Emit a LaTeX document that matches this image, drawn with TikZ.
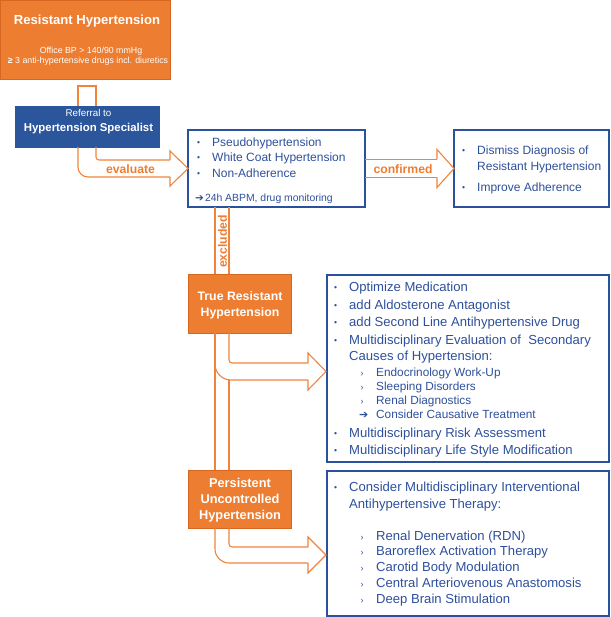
\documentclass[tikz,border=0pt]{standalone}
\usepackage{fontspec}
\setmainfont{Liberation Sans}
\newfontfamily\dejavu{DejaVu Sans}
\usetikzlibrary{calc}
\definecolor{orF}{RGB}{237,125,49}
\definecolor{orD}{RGB}{214,102,32}
\definecolor{orL}{RGB}{240,132,58}
\definecolor{blF}{RGB}{44,86,156}
\definecolor{blB}{RGB}{42,80,158}
\definecolor{blT}{RGB}{46,80,156}
\newcommand\bul{\llap{\makebox[15pt][l]{\fontsize{8.5}{8.5}\selectfont\raisebox{1pt}{•}}}}
\newcommand\subb{\llap{\makebox[15.5pt][l]{\fontsize{9}{9}\selectfont ›}}}
\newcommand\suba{\llap{\makebox[17pt][l]{\dejavu\fontsize{11}{11}\selectfont ➔}}}
\tikzset{
  obox/.style={draw=orD, fill=orF, line width=0.8pt, outer sep=0pt, inner sep=0pt, anchor=north west},
  rbox/.style={draw=blF, fill=blF, line width=0.6pt, outer sep=0pt, inner sep=0pt, anchor=north west},
  bbox/.style={draw=blB, fill=white, line width=1.6pt, outer sep=0pt, inner sep=0pt, anchor=north west},
  chan/.style={draw=orL, line width=1.1pt, line join=miter},
  wtxt/.style={anchor=base, inner sep=0pt, text=white},
  btxt/.style={anchor=base west, inner sep=0pt, text=blT, font=\fontsize{12}{14}\selectfont},
  mtxt/.style={anchor=base west, inner sep=0pt, text=blT, font=\fontsize{13.1}{15}\selectfont},
  stxt/.style={anchor=base west, inner sep=0pt, text=blT, font=\fontsize{11.8}{14}\selectfont},
  olbl/.style={inner sep=0pt, text=orF, font=\bfseries\fontsize{12.2}{14}\selectfont},
}
\begin{document}
\begin{tikzpicture}[x=1pt,y=-1pt]
\useasboundingbox (0,0) rectangle (610,617);

% ---- boxes
\node[obox, minimum width=170pt, minimum height=79pt] (top) at (0,0) {};
\node[rbox, minimum width=144pt, minimum height=41pt] (ref) at (15,106) {};
\node[bbox, minimum width=177pt, minimum height=77pt] (b2) at (188,130) {};
\node[bbox, minimum width=155pt, minimum height=77pt] (b3) at (454,130) {};
\node[obox, minimum width=103pt, minimum height=59pt] (tr) at (188,274) {};
\node[bbox, minimum width=282pt, minimum height=187pt] (b4) at (327,275) {};
\node[obox, minimum width=103pt, minimum height=58pt] (pu) at (188,470) {};
\node[bbox, minimum width=282pt, minimum height=145pt] (b5) at (327,471) {};

% ---- top box text
\node[wtxt, font=\bfseries\fontsize{13.1}{15}\selectfont] (t1) at (87,25) {Resistant Hypertension};
\node[wtxt, font=\fontsize{8.8}{10}\selectfont] (t2) at (91,54) {Office BP > 140/90 mmHg};
\node[wtxt, font=\fontsize{8.8}{10}\selectfont] (t3) at (88,63.5) {\textbf{≥} 3 anti-hypertensive drugs incl. diuretics};

% ---- referral text
\node[wtxt, font=\fontsize{9.8}{11}\selectfont] (r1) at (88.5,117) {Referral to};
\node[wtxt, font=\bfseries\fontsize{11.4}{13}\selectfont] (r2) at (88.5,132) {Hypertension Specialist};

% ---- box 2
\node[btxt] (p1) at (212,146.7) {\bul Pseudohypertension};
\node[btxt] (p2) at (212,162) {\bul White Coat Hypertension};
\node[btxt] (p3) at (212,178) {\bul Non-Adherence};
\node[btxt, font=\fontsize{10.4}{12}\selectfont] (p4) at (195,201.5) {{\dejavu\fontsize{10.5}{10.5}\selectfont ➔}\hspace{1pt}24h ABPM, drug monitoring};

% ---- box 3
\node[btxt] (d1) at (477,155) {\bul Dismiss Diagnosis of};
\node[btxt] (d2) at (477,170.7) {Resistant Hypertension};
\node[btxt] (d3) at (477,191.7) {\bul Improve Adherence};

% ---- true resistant text
\node[wtxt, font=\bfseries\fontsize{12.3}{14}\selectfont] (tr1) at (240,300) {True Resistant};
\node[wtxt, font=\bfseries\fontsize{12.3}{14}\selectfont] (tr2) at (240,316) {Hypertension};

% ---- box 4
\node[mtxt] (o1) at (349,291.7) {\bul Optimize Medication};
\node[mtxt] (o2) at (349,309) {\bul add Aldosterone Antagonist};
\node[mtxt] (o3) at (349,326.5) {\bul add Second Line Antihypertensive Drug};
\node[mtxt] (o4) at (349,344) {\bul Multidisciplinary Evaluation of\ \ Secondary};
\node[mtxt] (o5) at (349,360) {Causes of Hypertension:};
\node[stxt] (o6) at (376,376) {\subb Endocrinology Work-Up};
\node[stxt] (o7) at (376,390.5) {\subb Sleeping Disorders};
\node[stxt] (o8) at (376,404.3) {\subb Renal Diagnostics};
\node[stxt] (o9) at (376,418.7) {\suba Consider Causative Treatment};
\node[mtxt] (o10) at (349,437.3) {\bul Multidisciplinary Risk Assessment};
\node[mtxt] (o11) at (349,454.3) {\bul Multidisciplinary Life Style Modification};

% ---- persistent text
\node[wtxt, font=\bfseries\fontsize{12.8}{14}\selectfont] (pu1) at (240,487.3) {Persistent};
\node[wtxt, font=\bfseries\fontsize{12.8}{14}\selectfont] (pu2) at (240,503.3) {Uncontrolled};
\node[wtxt, font=\bfseries\fontsize{12.8}{14}\selectfont] (pu3) at (240,519.3) {Hypertension};

% ---- box 5
\node[mtxt] (c1) at (349,491.7) {\bul Consider Multidisciplinary Interventional};
\node[mtxt] (c2) at (349,508.3) {Antihypertensive Therapy:};
\node[mtxt] (c3) at (376,540) {\subb Renal Denervation (RDN)};
\node[mtxt] (c4) at (376,555.3) {\subb Baroreflex Activation Therapy};
\node[mtxt] (c5) at (376,571.3) {\subb Carotid Body Modulation};
\node[mtxt] (c6) at (376,587.3) {\subb Central Arteriovenous Anastomosis};
\node[mtxt] (c7) at (376,603.3) {\subb Deep Brain Stimulation};

% ---- connector: top -> referral
\draw[chan] ($(ref.north west)+(63,0)$) -- ++(0,-20) -- ++(18,0) -- ++(0,20);

% ---- connector: referral -> box 2 (evaluate)
\coordinate (e1) at ($(b2.west)+(-18,0)$);
\draw[chan, rounded corners=3] ($(ref.south west)+(81,0)$) |- ($(e1)+(0,-8.5)$);
\draw[chan, rounded corners=10] ($(ref.south west)+(63,0)$) |- ($(e1)+(0,8.5)$);
\draw[chan] ($(e1)+(0,-8.5)$) -- ++(0,-9) -- (b2.west) -- ($(e1)+(0,17.5)$) -- ++(0,-9);
\node[olbl, anchor=base] (lev) at (130.5,173.5) {evaluate};

% ---- connector: box 2 -> box 3 (confirmed)
\coordinate (e2) at ($(b3.west)+(-17,0)$);
\draw[chan] ($(b2.east)+(0,-9)$) -- ($(e2)+(0,-9)$);
\draw[chan] ($(b2.east)+(0,9)$) -- ($(e2)+(0,9)$);
\draw[chan] ($(e2)+(0,-9)$) -- ++(0,-10) -- (b3.west) -- ($(e2)+(0,19)$) -- ++(0,-10);
\node[olbl, anchor=base] (lco) at (403,173.5) {confirmed};

% ---- connector: box 2 -> true resistant (excluded)
\draw[chan] ($(b2.south west)+(27,0)$) -- ($(tr.north west)+(27,0)$);
\draw[chan] ($(b2.south west)+(41,0)$) -- ($(tr.north west)+(41,0)$);
\node[olbl, rotate=90] (lex) at (222.5,241.5) {excluded};

% ---- connector: true resistant -> box 4, and down to persistent
\coordinate (e3) at (308,371.5);
\draw[chan] ($(tr.south west)+(27,0)$) -- ($(pu.north west)+(27,0)$);
\draw[chan, rounded corners=3] ($(tr.south west)+(41,0)$) |- ($(e3)+(0,-8.5)$);
\draw[chan, rounded corners=16] ($(e3)+(-93,-25)$) |- ($(e3)+(0,8.5)$);
\draw[chan] ($(e3)+(-79,8.5)$) -- ($(pu.north west)+(41,0)$);
\draw[chan] ($(e3)+(0,-8.5)$) -- ++(0,-10) -- ($(e3)+(18,0)$) -- ($(e3)+(0,18.5)$) -- ++(0,-10);

% ---- connector: persistent -> box 5
\coordinate (e4) at (308,555);
\draw[chan, rounded corners=3] ($(pu.south west)+(41,0)$) |- ($(e4)+(0,-8)$);
\draw[chan, rounded corners=14] ($(pu.south west)+(27,0)$) |- ($(e4)+(0,8)$);
\draw[chan] ($(e4)+(0,-8)$) -- ++(0,-10) -- ($(e4)+(18,0)$) -- ($(e4)+(0,18)$) -- ++(0,-10);
\end{tikzpicture}
\end{document}
